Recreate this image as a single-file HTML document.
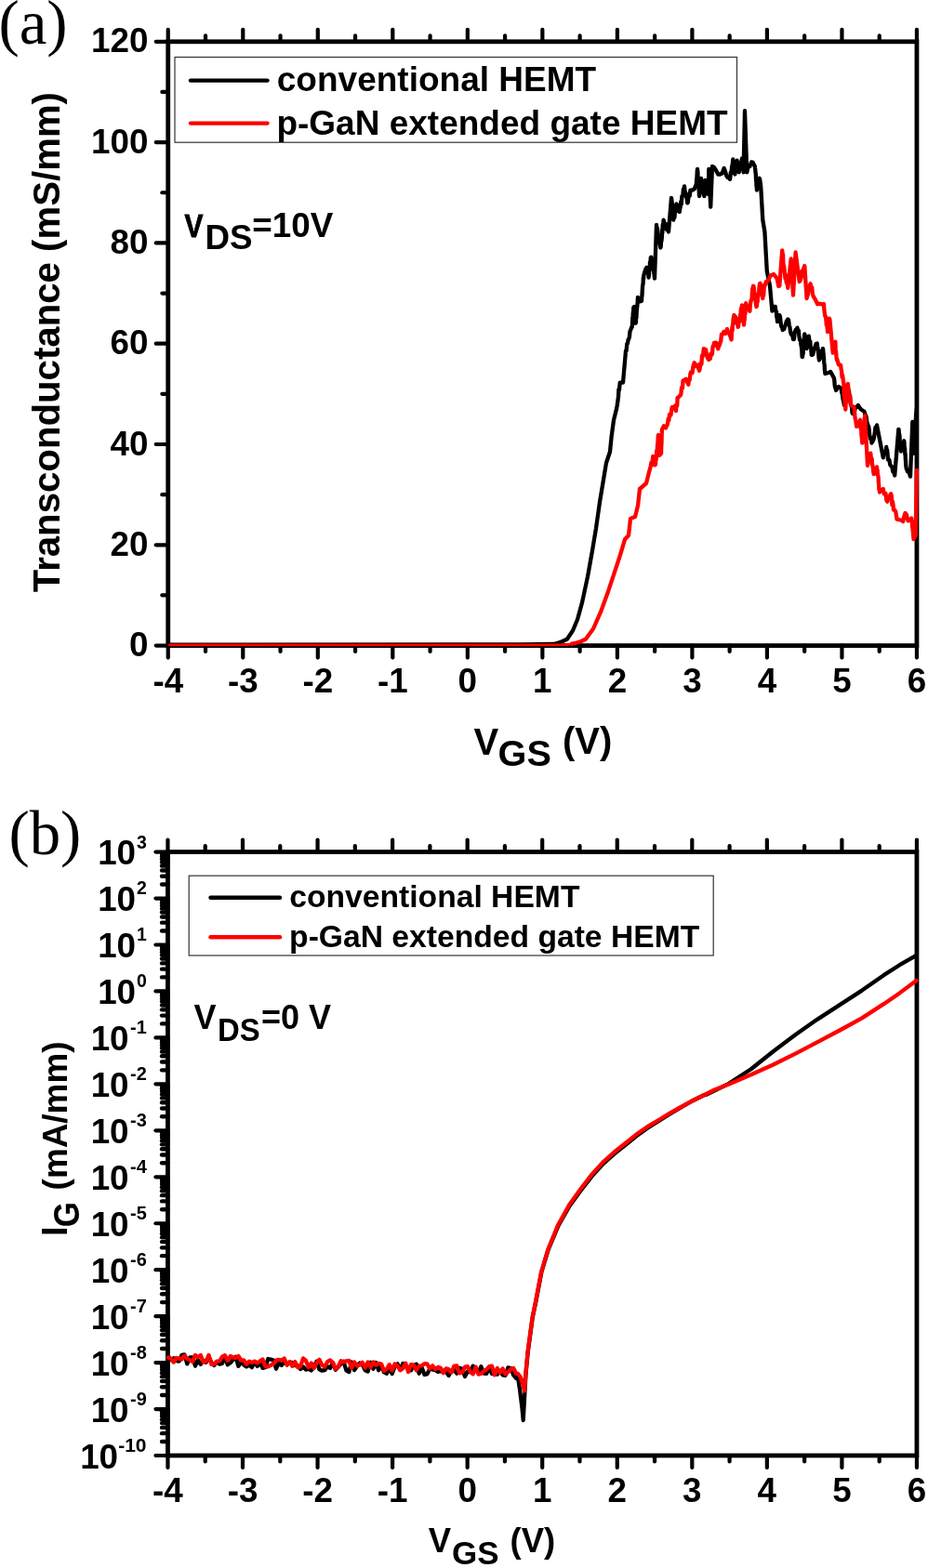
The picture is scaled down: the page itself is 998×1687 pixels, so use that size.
<!DOCTYPE html>
<html><head><meta charset="utf-8"><title>Figure</title>
<style>html,body{margin:0;padding:0;background:#fff}svg{display:block}</style></head>
<body>
<svg width="998" height="1687" viewBox="0 0 998 1687">
<rect x="0" y="0" width="998" height="1687" fill="#fff"/>
<rect x="180.75" y="44.8" width="805.20" height="649.80" fill="none" stroke="#000" stroke-width="4.8"/>
<line x1="180.75" y1="44.80" x2="180.75" y2="31.80" stroke="#000" stroke-width="4.2" stroke-linecap="round"/>
<line x1="180.75" y1="694.60" x2="180.75" y2="707.60" stroke="#000" stroke-width="4.2" stroke-linecap="round"/>
<line x1="221.01" y1="44.80" x2="221.01" y2="38.40" stroke="#000" stroke-width="4.2" stroke-linecap="round"/>
<line x1="221.01" y1="694.60" x2="221.01" y2="701.00" stroke="#000" stroke-width="4.2" stroke-linecap="round"/>
<line x1="261.27" y1="44.80" x2="261.27" y2="31.80" stroke="#000" stroke-width="4.2" stroke-linecap="round"/>
<line x1="261.27" y1="694.60" x2="261.27" y2="707.60" stroke="#000" stroke-width="4.2" stroke-linecap="round"/>
<line x1="301.53" y1="44.80" x2="301.53" y2="38.40" stroke="#000" stroke-width="4.2" stroke-linecap="round"/>
<line x1="301.53" y1="694.60" x2="301.53" y2="701.00" stroke="#000" stroke-width="4.2" stroke-linecap="round"/>
<line x1="341.79" y1="44.80" x2="341.79" y2="31.80" stroke="#000" stroke-width="4.2" stroke-linecap="round"/>
<line x1="341.79" y1="694.60" x2="341.79" y2="707.60" stroke="#000" stroke-width="4.2" stroke-linecap="round"/>
<line x1="382.05" y1="44.80" x2="382.05" y2="38.40" stroke="#000" stroke-width="4.2" stroke-linecap="round"/>
<line x1="382.05" y1="694.60" x2="382.05" y2="701.00" stroke="#000" stroke-width="4.2" stroke-linecap="round"/>
<line x1="422.31" y1="44.80" x2="422.31" y2="31.80" stroke="#000" stroke-width="4.2" stroke-linecap="round"/>
<line x1="422.31" y1="694.60" x2="422.31" y2="707.60" stroke="#000" stroke-width="4.2" stroke-linecap="round"/>
<line x1="462.57" y1="44.80" x2="462.57" y2="38.40" stroke="#000" stroke-width="4.2" stroke-linecap="round"/>
<line x1="462.57" y1="694.60" x2="462.57" y2="701.00" stroke="#000" stroke-width="4.2" stroke-linecap="round"/>
<line x1="502.83" y1="44.80" x2="502.83" y2="31.80" stroke="#000" stroke-width="4.2" stroke-linecap="round"/>
<line x1="502.83" y1="694.60" x2="502.83" y2="707.60" stroke="#000" stroke-width="4.2" stroke-linecap="round"/>
<line x1="543.09" y1="44.80" x2="543.09" y2="38.40" stroke="#000" stroke-width="4.2" stroke-linecap="round"/>
<line x1="543.09" y1="694.60" x2="543.09" y2="701.00" stroke="#000" stroke-width="4.2" stroke-linecap="round"/>
<line x1="583.35" y1="44.80" x2="583.35" y2="31.80" stroke="#000" stroke-width="4.2" stroke-linecap="round"/>
<line x1="583.35" y1="694.60" x2="583.35" y2="707.60" stroke="#000" stroke-width="4.2" stroke-linecap="round"/>
<line x1="623.61" y1="44.80" x2="623.61" y2="38.40" stroke="#000" stroke-width="4.2" stroke-linecap="round"/>
<line x1="623.61" y1="694.60" x2="623.61" y2="701.00" stroke="#000" stroke-width="4.2" stroke-linecap="round"/>
<line x1="663.87" y1="44.80" x2="663.87" y2="31.80" stroke="#000" stroke-width="4.2" stroke-linecap="round"/>
<line x1="663.87" y1="694.60" x2="663.87" y2="707.60" stroke="#000" stroke-width="4.2" stroke-linecap="round"/>
<line x1="704.13" y1="44.80" x2="704.13" y2="38.40" stroke="#000" stroke-width="4.2" stroke-linecap="round"/>
<line x1="704.13" y1="694.60" x2="704.13" y2="701.00" stroke="#000" stroke-width="4.2" stroke-linecap="round"/>
<line x1="744.39" y1="44.80" x2="744.39" y2="31.80" stroke="#000" stroke-width="4.2" stroke-linecap="round"/>
<line x1="744.39" y1="694.60" x2="744.39" y2="707.60" stroke="#000" stroke-width="4.2" stroke-linecap="round"/>
<line x1="784.65" y1="44.80" x2="784.65" y2="38.40" stroke="#000" stroke-width="4.2" stroke-linecap="round"/>
<line x1="784.65" y1="694.60" x2="784.65" y2="701.00" stroke="#000" stroke-width="4.2" stroke-linecap="round"/>
<line x1="824.91" y1="44.80" x2="824.91" y2="31.80" stroke="#000" stroke-width="4.2" stroke-linecap="round"/>
<line x1="824.91" y1="694.60" x2="824.91" y2="707.60" stroke="#000" stroke-width="4.2" stroke-linecap="round"/>
<line x1="865.17" y1="44.80" x2="865.17" y2="38.40" stroke="#000" stroke-width="4.2" stroke-linecap="round"/>
<line x1="865.17" y1="694.60" x2="865.17" y2="701.00" stroke="#000" stroke-width="4.2" stroke-linecap="round"/>
<line x1="905.43" y1="44.80" x2="905.43" y2="31.80" stroke="#000" stroke-width="4.2" stroke-linecap="round"/>
<line x1="905.43" y1="694.60" x2="905.43" y2="707.60" stroke="#000" stroke-width="4.2" stroke-linecap="round"/>
<line x1="945.69" y1="44.80" x2="945.69" y2="38.40" stroke="#000" stroke-width="4.2" stroke-linecap="round"/>
<line x1="945.69" y1="694.60" x2="945.69" y2="701.00" stroke="#000" stroke-width="4.2" stroke-linecap="round"/>
<line x1="985.95" y1="44.80" x2="985.95" y2="31.80" stroke="#000" stroke-width="4.2" stroke-linecap="round"/>
<line x1="985.95" y1="694.60" x2="985.95" y2="707.60" stroke="#000" stroke-width="4.2" stroke-linecap="round"/>
<line x1="180.75" y1="694.60" x2="167.75" y2="694.60" stroke="#000" stroke-width="4.2" stroke-linecap="round"/>
<line x1="180.75" y1="640.45" x2="174.35" y2="640.45" stroke="#000" stroke-width="4.2" stroke-linecap="round"/>
<line x1="180.75" y1="586.30" x2="167.75" y2="586.30" stroke="#000" stroke-width="4.2" stroke-linecap="round"/>
<line x1="180.75" y1="532.15" x2="174.35" y2="532.15" stroke="#000" stroke-width="4.2" stroke-linecap="round"/>
<line x1="180.75" y1="478.00" x2="167.75" y2="478.00" stroke="#000" stroke-width="4.2" stroke-linecap="round"/>
<line x1="180.75" y1="423.85" x2="174.35" y2="423.85" stroke="#000" stroke-width="4.2" stroke-linecap="round"/>
<line x1="180.75" y1="369.70" x2="167.75" y2="369.70" stroke="#000" stroke-width="4.2" stroke-linecap="round"/>
<line x1="180.75" y1="315.55" x2="174.35" y2="315.55" stroke="#000" stroke-width="4.2" stroke-linecap="round"/>
<line x1="180.75" y1="261.40" x2="167.75" y2="261.40" stroke="#000" stroke-width="4.2" stroke-linecap="round"/>
<line x1="180.75" y1="207.25" x2="174.35" y2="207.25" stroke="#000" stroke-width="4.2" stroke-linecap="round"/>
<line x1="180.75" y1="153.10" x2="167.75" y2="153.10" stroke="#000" stroke-width="4.2" stroke-linecap="round"/>
<line x1="180.75" y1="98.95" x2="174.35" y2="98.95" stroke="#000" stroke-width="4.2" stroke-linecap="round"/>
<line x1="180.75" y1="44.80" x2="167.75" y2="44.80" stroke="#000" stroke-width="4.2" stroke-linecap="round"/>
<polyline points="181.0,693.6 560.0,693.4 595.0,693.0 600.0,691.8 605.0,690.0 610.0,687.5 616.0,678.5 621.0,666.5 626.0,648.4 632.0,620.4 637.0,592.3 641.0,568.3 645.0,540.2 649.0,516.0 652.0,498.0 656.0,486.0 657.6,470.0 660.0,452.0 663.0,440.0 663.3,438.2 663.7,436.4 664.0,434.1 664.3,432.5 664.7,428.6 665.0,427.2 665.4,418.9 665.7,419.1 666.0,419.6 666.4,415.1 666.7,411.6 670.0,411.6 673.0,377.4 673.6,377.4 674.3,369.8 675.0,369.5 675.6,365.5 676.2,364.9 676.9,362.5 677.5,356.4 678.2,355.1 678.9,352.9 679.5,351.8 679.8,351.8 680.0,348.2 680.3,341.6 680.5,343.1 680.8,336.2 681.1,336.6 681.3,330.8 681.6,330.5 682.0,330.1 682.3,338.5 682.7,337.1 683.0,340.0 683.4,347.8 683.7,347.5 683.9,347.1 684.1,340.6 684.4,342.1 684.6,336.7 684.8,334.8 685.0,329.0 685.2,330.9 685.5,326.6 685.7,325.6 685.9,319.8 688.0,324.4 690.0,324.0 690.2,319.9 690.5,317.6 690.7,313.6 690.9,310.7 691.1,307.4 691.4,306.1 691.6,305.3 691.8,298.7 692.1,300.2 692.3,296.3 693.4,292.4 694.4,289.4 695.5,287.8 696.0,292.5 696.5,293.0 697.1,294.6 697.6,298.5 697.9,295.7 698.1,294.4 698.4,287.6 698.7,290.8 699.0,282.0 699.2,284.0 699.5,281.9 699.8,277.0 700.3,276.7 700.8,284.5 701.4,284.6 701.9,288.8 702.4,287.9 703.0,291.0 703.5,294.6 704.0,299.5 706.0,242.0 706.5,247.6 707.0,245.5 707.5,251.8 708.0,255.6 708.4,258.4 708.9,257.3 709.4,260.1 709.9,263.9 710.4,266.5 710.7,265.5 711.0,258.6 711.3,259.9 711.6,257.5 711.9,255.2 712.1,247.2 712.4,250.3 712.7,242.1 713.0,241.0 713.3,240.0 713.6,236.6 714.7,241.8 715.8,240.7 716.8,247.0 717.9,247.1 719.0,249.4 722.0,213.0 722.3,214.4 722.5,217.1 722.8,218.8 723.0,220.8 723.3,223.9 723.5,229.9 723.8,234.5 724.0,231.8 724.3,236.6 724.8,230.9 725.4,234.0 725.9,228.3 726.4,224.6 727.0,220.7 727.5,219.5 728.6,222.9 729.6,227.3 730.7,228.0 731.2,224.9 731.8,222.0 732.3,216.8 732.8,219.6 733.4,211.2 733.9,211.3 734.4,210.8 734.9,203.5 735.5,204.6 736.0,200.3 736.5,205.8 736.9,206.3 737.4,209.9 737.8,208.1 738.3,212.8 738.7,213.6 739.2,218.4 739.8,217.8 740.5,211.6 741.1,209.8 741.8,210.6 742.4,204.6 744.5,204.7 746.7,203.4 748.8,198.2 749.0,195.2 749.2,192.7 749.4,191.6 749.6,187.3 749.8,183.4 750.0,182.0 750.2,184.0 750.4,185.0 750.5,189.1 750.7,195.7 750.9,198.1 751.1,198.6 751.3,200.5 751.5,202.1 751.6,203.1 751.8,206.9 752.0,211.0 752.3,210.1 752.6,207.9 752.9,201.9 753.1,201.9 753.4,199.0 753.7,195.8 754.0,191.8 754.5,195.6 755.0,198.9 755.5,199.2 755.9,204.1 756.4,204.1 756.9,208.2 757.4,211.0 757.6,209.9 757.7,206.6 757.9,201.2 758.1,202.5 758.2,197.8 758.4,194.0 759.0,197.5 759.7,196.8 760.3,203.2 761.0,204.2 761.6,208.8 761.7,207.2 761.7,203.2 761.8,202.8 761.9,199.0 762.0,197.3 762.0,191.7 762.1,191.0 762.2,188.9 762.2,186.8 762.3,182.0 764.2,222.7 766.0,179.0 768.0,180.1 770.0,183.2 772.2,187.5 774.4,187.5 776.5,186.6 778.7,181.0 780.0,184.6 781.2,188.8 782.5,191.0 783.7,190.6 785.0,192.8 785.4,190.3 785.8,185.3 786.2,187.0 786.6,184.9 787.1,179.3 787.5,178.1 787.9,175.6 788.3,171.5 788.6,175.6 789.0,174.7 789.3,181.3 789.7,182.7 790.0,185.9 790.4,187.5 790.8,184.0 791.3,182.3 791.7,180.3 792.2,176.5 792.6,172.6 793.1,177.2 793.7,176.0 794.2,180.0 794.7,185.4 795.4,182.0 796.0,180.4 796.7,174.6 797.3,174.6 798.0,170.4 798.3,174.2 798.6,173.5 799.0,179.2 799.3,180.6 799.6,185.4 801.0,119.2 803.2,185.4 804.8,179.3 806.4,179.0 808.0,174.5 809.6,174.7 811.8,179.0 812.0,180.7 812.3,182.7 812.5,185.6 812.8,187.4 813.0,193.0 813.3,195.3 813.5,199.6 813.8,202.3 814.0,204.6 814.5,200.4 815.1,202.1 815.6,193.7 816.2,193.8 816.7,191.8 817.2,193.2 817.7,196.9 818.2,200.3 820.3,236.6 822.4,249.4 824.8,291.8 828.0,307.6 830.4,334.6 832.1,329.8 833.8,330.0 834.2,334.8 834.5,334.5 834.9,335.0 835.3,341.4 835.6,340.7 836.0,346.0 837.1,342.8 838.3,339.0 838.9,340.6 839.4,344.9 840.0,349.9 840.6,351.7 841.1,351.8 841.7,355.0 843.1,354.2 844.5,350.2 845.9,345.6 847.3,343.6 848.0,344.0 848.7,349.6 849.4,352.0 850.1,357.2 850.9,360.0 851.6,360.3 852.3,361.4 853.0,365.0 853.9,365.0 854.8,356.8 855.6,355.1 856.5,355.5 857.4,352.6 858.1,356.0 858.8,355.7 859.4,361.5 860.1,365.8 860.8,366.0 861.2,368.2 861.5,371.6 861.9,373.2 862.3,376.7 862.6,384.0 863.0,384.0 863.3,380.5 863.5,381.5 863.8,378.4 864.0,373.7 864.3,368.8 864.5,370.7 864.8,364.8 865.0,361.6 865.3,359.4 865.7,360.8 866.1,367.7 866.5,367.1 866.8,368.4 867.2,372.3 867.6,375.0 868.0,369.9 868.5,370.4 868.9,366.6 869.4,363.0 869.8,361.6 870.3,366.3 870.8,369.5 871.3,367.2 871.7,373.5 872.2,374.7 872.7,381.9 873.2,382.0 874.3,381.3 875.4,375.4 876.6,373.0 877.7,369.8 878.8,369.5 879.2,375.6 879.5,374.2 879.9,379.2 880.3,381.3 880.6,385.4 881.0,387.5 881.8,385.7 882.6,384.1 883.4,377.6 884.2,379.2 885.0,375.0 885.2,376.4 885.5,380.6 885.7,382.1 886.0,384.5 886.2,388.7 886.4,391.0 886.7,393.0 886.9,398.2 887.2,399.9 887.4,402.0 891.2,401.0 893.1,399.9 895.0,403.2 896.9,406.7 897.3,409.1 897.7,414.7 898.2,417.2 898.6,417.6 899.0,420.0 901.9,415.9 904.7,418.0 905.2,422.4 905.6,422.7 906.1,426.2 906.6,429.6 907.1,431.7 907.5,433.3 908.0,436.0 908.8,436.0 909.5,429.9 910.3,427.3 911.1,427.6 911.8,420.7 912.6,420.0 913.1,421.5 913.6,427.7 914.1,425.6 914.6,433.3 915.0,435.1 915.5,436.2 916.0,438.1 916.5,444.0 917.0,445.0 918.5,445.4 919.9,438.2 921.3,438.1 922.8,436.0 924.4,438.6 926.0,440.5 929.5,442.7 930.2,445.3 930.9,446.9 931.6,448.5 932.3,453.9 933.0,456.0 933.5,460.6 934.1,458.4 934.6,462.0 935.2,468.3 935.8,470.7 936.3,472.4 936.9,470.9 937.4,476.5 938.2,475.2 939.0,474.1 939.8,471.5 940.6,466.9 941.4,460.0 942.2,462.3 943.0,457.4 949.8,492.3 950.6,487.7 951.5,487.6 952.4,486.7 953.2,481.0 953.6,485.1 954.1,484.1 954.5,487.8 955.0,494.6 955.4,494.6 956.4,494.8 957.3,500.1 958.3,501.3 959.3,502.1 960.3,507.5 961.2,506.2 962.2,511.5 966.3,462.0 966.6,462.1 966.9,466.4 967.2,467.1 967.5,469.6 967.8,475.5 968.1,479.2 968.4,482.7 968.7,480.5 969.0,485.5 969.8,482.3 970.6,478.7 971.5,477.7 972.3,474.3 972.5,476.9 972.7,482.4 972.9,481.5 973.1,482.1 973.3,488.9 973.6,488.0 973.8,493.8 974.0,495.6 974.2,500.9 974.4,501.3 974.6,503.6 976.1,507.4 977.5,508.1 979.0,512.6 981.3,454.0 983.0,487.8 984.7,451.8 985.0,449.2 985.2,444.3 985.5,444.6 985.8,440.0" fill="none" stroke="#000" stroke-width="4.3" stroke-linejoin="round" stroke-linecap="round"/>
<polyline points="182.2,693.8 600.0,693.8 610.0,693.5 616.0,692.8" fill="none" stroke="#f00" stroke-width="2.8" stroke-linejoin="round" stroke-linecap="round"/>
<polyline points="615.0,692.6 620.0,691.5 625.0,690.0 630.0,687.5 638.0,676.5 646.0,658.4 654.0,636.4 660.0,618.4 666.0,600.3 672.0,580.3 676.0,576.0 678.0,558.0 683.0,556.0 686.0,544.0 688.0,526.0 695.0,520.0 698.0,508.0 698.8,505.1 699.7,501.7 700.5,497.3 701.3,500.1 702.2,490.9 703.0,492.0 703.7,494.7 704.3,500.4 705.0,500.0 705.3,494.0 705.6,494.7 705.9,492.3 706.1,485.1 706.4,484.8 706.7,484.4 707.0,480.0 707.2,476.6 707.5,475.7 707.8,468.4 708.0,468.0 708.1,468.8 708.2,470.5 708.4,476.3 708.5,482.2 708.6,482.4 708.8,486.6 708.9,486.4 709.0,490.0 711.0,488.0 711.1,487.3 711.2,479.8 711.3,478.6 711.4,478.9 711.5,476.7 711.6,471.8 711.7,466.7 711.8,465.4 711.9,462.4 712.0,462.0 714.0,458.3 716.0,460.4 718.0,456.0 718.7,450.4 719.3,452.3 720.0,446.0 721.4,446.6 722.7,438.1 724.0,438.3 725.4,437.0 726.2,439.4 727.0,442.0 727.4,435.6 727.8,435.8 728.2,436.7 728.6,427.9 729.0,428.0 732.0,425.0 732.5,423.1 733.0,416.9 733.5,417.8 734.0,417.6 734.5,409.7 735.0,409.4 737.6,407.8 740.3,413.7 741.0,407.9 741.7,408.8 742.4,402.2 743.1,400.1 743.9,400.6 744.6,401.2 745.3,394.8 746.0,392.0 746.7,390.2 748.5,394.1 750.2,392.8 752.0,398.8 752.6,396.8 753.2,391.1 753.8,391.8 754.4,391.8 755.0,382.4 755.6,383.6 756.2,381.3 756.8,375.2 757.4,375.3 759.0,376.2 760.6,384.4 762.2,387.1 763.8,386.0 764.5,380.3 765.2,381.9 765.9,380.9 766.6,372.6 767.3,372.6 768.0,368.9 770.1,368.6 772.3,375.3 773.0,371.8 773.7,371.6 774.5,368.5 775.2,367.4 775.9,359.7 776.6,360.3 778.4,357.0 780.2,358.9 782.0,354.0 783.0,357.3 784.1,358.9 785.2,361.2 786.2,364.6 786.6,365.4 786.9,359.5 787.3,352.4 787.6,355.5 788.0,349.1 788.3,347.0 788.7,342.5 789.0,341.4 789.4,339.0 790.2,340.2 791.1,341.0 791.9,347.7 792.8,346.2 793.6,351.8 794.1,351.3 794.6,343.0 795.1,346.1 795.6,343.7 796.0,338.7 796.5,337.7 797.0,331.6 797.5,332.7 798.0,328.3 798.2,330.4 798.5,331.6 798.8,339.9 799.0,338.2 799.2,340.7 799.5,347.1 799.8,346.0 800.0,349.7 800.2,348.4 800.5,342.0 800.7,344.5 801.0,337.4 801.2,333.2 801.5,337.6 801.7,328.9 802.0,332.2 802.2,326.2 803.6,332.7 805.0,332.7 806.4,334.7 806.8,328.3 807.1,325.9 807.5,324.4 807.8,323.0 808.2,322.0 808.6,322.0 808.9,314.6 809.3,310.3 809.6,310.8 810.0,307.6 810.4,307.6 810.9,310.1 811.3,316.4 811.8,320.3 812.2,318.3 812.6,324.0 813.1,328.7 813.5,330.0 813.9,329.3 814.3,323.6 814.7,324.7 815.1,316.5 815.4,317.9 815.8,315.6 816.2,313.7 816.6,308.0 817.0,305.3 817.5,304.9 818.1,307.1 818.6,313.4 819.2,313.3 819.8,319.4 820.3,321.0 820.7,315.2 821.2,317.8 821.6,310.9 822.1,306.6 822.5,307.6 823.9,302.9 825.2,302.8 826.6,301.3 827.9,297.7 829.3,296.3 832.1,295.0 835.0,298.6 836.1,301.5 837.2,308.0 838.3,307.6 841.2,269.3 841.5,272.3 841.8,278.1 842.1,274.0 842.4,284.0 842.8,286.0 843.1,286.1 843.4,288.7 843.7,291.5 844.0,294.0 844.5,299.7 845.1,296.0 845.6,303.0 846.2,304.9 846.8,305.6 847.3,309.8 850.7,278.3 853.0,317.7 855.6,271.5 859.7,303.0 860.6,301.9 861.6,299.0 862.5,291.5 863.4,293.2 864.4,288.5 865.3,286.0 867.6,321.0 868.3,318.3 868.9,316.8 869.6,309.8 870.3,311.3 870.9,307.0 871.6,305.3 872.4,311.1 873.2,309.1 873.9,316.6 874.7,318.8 875.5,320.0 877.3,323.2 879.2,327.3 881.0,326.7 885.6,327.9 886.0,327.0 886.4,333.9 886.8,336.7 887.2,339.8 887.6,340.4 888.0,340.5 888.4,344.1 888.8,349.9 889.2,349.3 889.6,351.0 890.0,357.0 890.5,353.2 891.0,351.4 891.4,349.2 891.9,342.7 892.4,343.6 895.7,379.7 896.3,379.0 896.9,372.8 897.4,373.4 898.0,368.4 898.4,367.7 898.7,377.9 899.1,378.1 899.5,384.0 899.8,387.1 900.2,386.4 901.9,392.3 903.6,393.2 904.1,392.8 904.6,397.2 905.1,398.9 905.5,405.6 906.0,403.7 906.5,406.5 907.0,411.2 907.2,410.9 907.4,413.6 907.6,422.5 907.8,425.5 908.0,423.5 908.3,429.0 908.5,429.6 908.7,432.7 908.9,434.2 909.1,438.9 909.3,440.5 909.5,435.8 909.7,433.2 910.0,432.5 910.2,427.4 910.4,426.5 910.6,427.7 910.8,418.0 911.1,415.9 911.3,418.5 911.5,413.5 911.9,413.0 912.4,417.2 912.8,424.6 913.2,425.5 913.7,425.4 914.1,427.0 914.6,431.5 915.0,436.0 918.3,438.0 918.8,439.4 919.2,446.1 919.7,450.4 920.2,451.9 920.7,455.7 921.1,458.8 921.6,458.5 923.3,458.0 925.0,451.8 925.3,457.7 925.5,460.8 925.8,457.0 926.0,461.4 926.3,463.6 926.5,469.1 926.8,470.9 927.0,472.6 927.3,476.5 927.6,476.4 927.8,470.4 928.1,466.2 928.4,464.1 928.6,462.8 928.9,461.2 929.1,458.2 929.4,454.6 929.7,450.0 929.9,448.9 930.2,447.0 933.0,501.0 933.7,497.0 934.3,493.2 935.0,493.4 935.6,488.1 936.3,487.8 936.7,492.2 937.1,494.6 937.6,493.4 938.0,499.9 938.4,500.4 938.9,504.0 939.3,508.0 939.7,510.0 940.8,509.5 941.9,507.8 943.0,502.4 943.3,506.9 943.6,505.6 943.9,510.8 944.2,512.0 944.5,512.3 944.8,519.1 945.1,521.1 945.4,526.9 945.7,525.5 946.0,529.5 949.8,526.0 950.7,531.3 951.6,531.5 952.5,531.1 953.4,538.5 954.3,539.6 955.4,535.3 956.6,534.6 957.7,531.7 958.2,531.3 958.8,533.6 959.4,543.3 959.9,539.5 960.5,543.1 961.0,548.6 962.1,548.6 963.3,550.6 964.5,558.7 965.6,558.8 970.0,560.0 971.2,561.1 972.3,555.8 973.5,552.0 975.0,553.9 976.5,560.3 978.0,560.0 980.2,557.6 980.5,560.4 980.8,560.4 981.1,567.4 981.4,567.7 981.6,569.9 981.9,573.0 982.2,576.3 982.5,580.0 984.7,575.7 985.9,505.8" fill="none" stroke="#f00" stroke-width="4.3" stroke-linejoin="round" stroke-linecap="round"/>
<text x="180.75" y="745.10" font-family='"Liberation Sans", Arial, Helvetica, sans-serif' font-size="36.8" font-weight="bold" text-anchor="middle" >-4</text>
<text x="261.27" y="745.10" font-family='"Liberation Sans", Arial, Helvetica, sans-serif' font-size="36.8" font-weight="bold" text-anchor="middle" >-3</text>
<text x="341.79" y="745.10" font-family='"Liberation Sans", Arial, Helvetica, sans-serif' font-size="36.8" font-weight="bold" text-anchor="middle" >-2</text>
<text x="422.31" y="745.10" font-family='"Liberation Sans", Arial, Helvetica, sans-serif' font-size="36.8" font-weight="bold" text-anchor="middle" >-1</text>
<text x="502.83" y="745.10" font-family='"Liberation Sans", Arial, Helvetica, sans-serif' font-size="36.8" font-weight="bold" text-anchor="middle" >0</text>
<text x="583.35" y="745.10" font-family='"Liberation Sans", Arial, Helvetica, sans-serif' font-size="36.8" font-weight="bold" text-anchor="middle" >1</text>
<text x="663.87" y="745.10" font-family='"Liberation Sans", Arial, Helvetica, sans-serif' font-size="36.8" font-weight="bold" text-anchor="middle" >2</text>
<text x="744.39" y="745.10" font-family='"Liberation Sans", Arial, Helvetica, sans-serif' font-size="36.8" font-weight="bold" text-anchor="middle" >3</text>
<text x="824.91" y="745.10" font-family='"Liberation Sans", Arial, Helvetica, sans-serif' font-size="36.8" font-weight="bold" text-anchor="middle" >4</text>
<text x="905.43" y="745.10" font-family='"Liberation Sans", Arial, Helvetica, sans-serif' font-size="36.8" font-weight="bold" text-anchor="middle" >5</text>
<text x="985.95" y="745.10" font-family='"Liberation Sans", Arial, Helvetica, sans-serif' font-size="36.8" font-weight="bold" text-anchor="middle" >6</text>
<text x="159.40" y="706.10" font-family='"Liberation Sans", Arial, Helvetica, sans-serif' font-size="36.8" font-weight="bold" text-anchor="end" >0</text>
<text x="159.40" y="597.80" font-family='"Liberation Sans", Arial, Helvetica, sans-serif' font-size="36.8" font-weight="bold" text-anchor="end" >20</text>
<text x="159.40" y="489.50" font-family='"Liberation Sans", Arial, Helvetica, sans-serif' font-size="36.8" font-weight="bold" text-anchor="end" >40</text>
<text x="159.40" y="381.20" font-family='"Liberation Sans", Arial, Helvetica, sans-serif' font-size="36.8" font-weight="bold" text-anchor="end" >60</text>
<text x="159.40" y="272.90" font-family='"Liberation Sans", Arial, Helvetica, sans-serif' font-size="36.8" font-weight="bold" text-anchor="end" >80</text>
<text x="159.40" y="164.60" font-family='"Liberation Sans", Arial, Helvetica, sans-serif' font-size="36.8" font-weight="bold" text-anchor="end" >100</text>
<text x="159.40" y="56.30" font-family='"Liberation Sans", Arial, Helvetica, sans-serif' font-size="36.8" font-weight="bold" text-anchor="end" >120</text>
<text transform="translate(63.8,637.2) rotate(-90)" font-family='"Liberation Sans", Arial, Helvetica, sans-serif' font-size="40.2" font-weight="bold">Transconductance (mS/mm)</text>
<text x="509.50" y="811.50" font-family='"Liberation Sans", Arial, Helvetica, sans-serif' font-size="40" font-weight="bold" text-anchor="start" >V</text>
<text x="535.60" y="824.30" font-family='"Liberation Sans", Arial, Helvetica, sans-serif' font-size="39.6" font-weight="bold" text-anchor="start" >GS</text>
<text x="605.00" y="810.50" font-family='"Liberation Sans", Arial, Helvetica, sans-serif' font-size="40" font-weight="bold" text-anchor="start" >(V)</text>
<text x="-1.60" y="47.20" font-family='"Liberation Serif", "Times New Roman", serif' font-size="66.8" font-weight="normal" text-anchor="start" >(a)</text>
<rect x="188" y="61.5" width="604.5" height="91.7" fill="#fff" stroke="#333" stroke-width="1.2"/>
<line x1="205.00" y1="86.60" x2="287.50" y2="86.60" stroke="#000" stroke-width="4.4" stroke-linecap="round"/>
<line x1="205.00" y1="132.60" x2="287.50" y2="132.60" stroke="#f00" stroke-width="4.4" stroke-linecap="round"/>
<text x="297.80" y="98.00" font-family='"Liberation Sans", Arial, Helvetica, sans-serif' font-size="37.0" font-weight="bold" text-anchor="start" >conventional HEMT</text>
<text x="297.40" y="145.20" font-family='"Liberation Sans", Arial, Helvetica, sans-serif' font-size="37.0" font-weight="bold" text-anchor="start" >p-GaN extended gate HEMT</text>
<text transform="translate(198.40,254.50) scale(0.84,1)" font-family='"Liberation Sans", Arial, Helvetica, sans-serif' font-size="35.5" font-weight="bold" stroke="#000" stroke-width="0.9">V</text>
<text x="220.50" y="268.20" font-family='"Liberation Sans", Arial, Helvetica, sans-serif' font-size="36.8" font-weight="bold" text-anchor="start" >DS</text>
<text x="271.30" y="254.60" font-family='"Liberation Sans", Arial, Helvetica, sans-serif' font-size="36.8" font-weight="bold" text-anchor="start" >=10V</text>
<rect x="180.45" y="916.6" width="805.50" height="649.40" fill="none" stroke="#000" stroke-width="4.8"/>
<line x1="180.45" y1="916.60" x2="180.45" y2="903.60" stroke="#000" stroke-width="4.2" stroke-linecap="round"/>
<line x1="180.45" y1="1566.00" x2="180.45" y2="1579.00" stroke="#000" stroke-width="4.2" stroke-linecap="round"/>
<line x1="220.72" y1="916.60" x2="220.72" y2="910.20" stroke="#000" stroke-width="4.2" stroke-linecap="round"/>
<line x1="220.72" y1="1566.00" x2="220.72" y2="1572.40" stroke="#000" stroke-width="4.2" stroke-linecap="round"/>
<line x1="261.00" y1="916.60" x2="261.00" y2="903.60" stroke="#000" stroke-width="4.2" stroke-linecap="round"/>
<line x1="261.00" y1="1566.00" x2="261.00" y2="1579.00" stroke="#000" stroke-width="4.2" stroke-linecap="round"/>
<line x1="301.27" y1="916.60" x2="301.27" y2="910.20" stroke="#000" stroke-width="4.2" stroke-linecap="round"/>
<line x1="301.27" y1="1566.00" x2="301.27" y2="1572.40" stroke="#000" stroke-width="4.2" stroke-linecap="round"/>
<line x1="341.55" y1="916.60" x2="341.55" y2="903.60" stroke="#000" stroke-width="4.2" stroke-linecap="round"/>
<line x1="341.55" y1="1566.00" x2="341.55" y2="1579.00" stroke="#000" stroke-width="4.2" stroke-linecap="round"/>
<line x1="381.82" y1="916.60" x2="381.82" y2="910.20" stroke="#000" stroke-width="4.2" stroke-linecap="round"/>
<line x1="381.82" y1="1566.00" x2="381.82" y2="1572.40" stroke="#000" stroke-width="4.2" stroke-linecap="round"/>
<line x1="422.10" y1="916.60" x2="422.10" y2="903.60" stroke="#000" stroke-width="4.2" stroke-linecap="round"/>
<line x1="422.10" y1="1566.00" x2="422.10" y2="1579.00" stroke="#000" stroke-width="4.2" stroke-linecap="round"/>
<line x1="462.38" y1="916.60" x2="462.38" y2="910.20" stroke="#000" stroke-width="4.2" stroke-linecap="round"/>
<line x1="462.38" y1="1566.00" x2="462.38" y2="1572.40" stroke="#000" stroke-width="4.2" stroke-linecap="round"/>
<line x1="502.65" y1="916.60" x2="502.65" y2="903.60" stroke="#000" stroke-width="4.2" stroke-linecap="round"/>
<line x1="502.65" y1="1566.00" x2="502.65" y2="1579.00" stroke="#000" stroke-width="4.2" stroke-linecap="round"/>
<line x1="542.92" y1="916.60" x2="542.92" y2="910.20" stroke="#000" stroke-width="4.2" stroke-linecap="round"/>
<line x1="542.92" y1="1566.00" x2="542.92" y2="1572.40" stroke="#000" stroke-width="4.2" stroke-linecap="round"/>
<line x1="583.20" y1="916.60" x2="583.20" y2="903.60" stroke="#000" stroke-width="4.2" stroke-linecap="round"/>
<line x1="583.20" y1="1566.00" x2="583.20" y2="1579.00" stroke="#000" stroke-width="4.2" stroke-linecap="round"/>
<line x1="623.47" y1="916.60" x2="623.47" y2="910.20" stroke="#000" stroke-width="4.2" stroke-linecap="round"/>
<line x1="623.47" y1="1566.00" x2="623.47" y2="1572.40" stroke="#000" stroke-width="4.2" stroke-linecap="round"/>
<line x1="663.75" y1="916.60" x2="663.75" y2="903.60" stroke="#000" stroke-width="4.2" stroke-linecap="round"/>
<line x1="663.75" y1="1566.00" x2="663.75" y2="1579.00" stroke="#000" stroke-width="4.2" stroke-linecap="round"/>
<line x1="704.03" y1="916.60" x2="704.03" y2="910.20" stroke="#000" stroke-width="4.2" stroke-linecap="round"/>
<line x1="704.03" y1="1566.00" x2="704.03" y2="1572.40" stroke="#000" stroke-width="4.2" stroke-linecap="round"/>
<line x1="744.30" y1="916.60" x2="744.30" y2="903.60" stroke="#000" stroke-width="4.2" stroke-linecap="round"/>
<line x1="744.30" y1="1566.00" x2="744.30" y2="1579.00" stroke="#000" stroke-width="4.2" stroke-linecap="round"/>
<line x1="784.58" y1="916.60" x2="784.58" y2="910.20" stroke="#000" stroke-width="4.2" stroke-linecap="round"/>
<line x1="784.58" y1="1566.00" x2="784.58" y2="1572.40" stroke="#000" stroke-width="4.2" stroke-linecap="round"/>
<line x1="824.85" y1="916.60" x2="824.85" y2="903.60" stroke="#000" stroke-width="4.2" stroke-linecap="round"/>
<line x1="824.85" y1="1566.00" x2="824.85" y2="1579.00" stroke="#000" stroke-width="4.2" stroke-linecap="round"/>
<line x1="865.12" y1="916.60" x2="865.12" y2="910.20" stroke="#000" stroke-width="4.2" stroke-linecap="round"/>
<line x1="865.12" y1="1566.00" x2="865.12" y2="1572.40" stroke="#000" stroke-width="4.2" stroke-linecap="round"/>
<line x1="905.40" y1="916.60" x2="905.40" y2="903.60" stroke="#000" stroke-width="4.2" stroke-linecap="round"/>
<line x1="905.40" y1="1566.00" x2="905.40" y2="1579.00" stroke="#000" stroke-width="4.2" stroke-linecap="round"/>
<line x1="945.67" y1="916.60" x2="945.67" y2="910.20" stroke="#000" stroke-width="4.2" stroke-linecap="round"/>
<line x1="945.67" y1="1566.00" x2="945.67" y2="1572.40" stroke="#000" stroke-width="4.2" stroke-linecap="round"/>
<line x1="985.95" y1="916.60" x2="985.95" y2="903.60" stroke="#000" stroke-width="4.2" stroke-linecap="round"/>
<line x1="985.95" y1="1566.00" x2="985.95" y2="1579.00" stroke="#000" stroke-width="4.2" stroke-linecap="round"/>
<line x1="180.45" y1="1566.00" x2="167.45" y2="1566.00" stroke="#000" stroke-width="4.2" stroke-linecap="round"/>
<line x1="180.45" y1="1550.96" x2="174.05" y2="1550.96" stroke="#000" stroke-width="4.4" stroke-linecap="round"/>
<line x1="180.45" y1="1542.17" x2="174.05" y2="1542.17" stroke="#000" stroke-width="4.4" stroke-linecap="round"/>
<line x1="180.45" y1="1535.92" x2="174.05" y2="1535.92" stroke="#000" stroke-width="4.4" stroke-linecap="round"/>
<line x1="180.45" y1="1531.08" x2="174.05" y2="1531.08" stroke="#000" stroke-width="4.4" stroke-linecap="round"/>
<line x1="180.45" y1="1527.13" x2="174.05" y2="1527.13" stroke="#000" stroke-width="4.4" stroke-linecap="round"/>
<line x1="180.45" y1="1523.78" x2="174.05" y2="1523.78" stroke="#000" stroke-width="4.4" stroke-linecap="round"/>
<line x1="180.45" y1="1520.89" x2="174.05" y2="1520.89" stroke="#000" stroke-width="4.4" stroke-linecap="round"/>
<line x1="180.45" y1="1518.33" x2="174.05" y2="1518.33" stroke="#000" stroke-width="4.4" stroke-linecap="round"/>
<line x1="180.45" y1="1516.05" x2="167.45" y2="1516.05" stroke="#000" stroke-width="4.2" stroke-linecap="round"/>
<line x1="180.45" y1="1501.01" x2="174.05" y2="1501.01" stroke="#000" stroke-width="4.4" stroke-linecap="round"/>
<line x1="180.45" y1="1492.21" x2="174.05" y2="1492.21" stroke="#000" stroke-width="4.4" stroke-linecap="round"/>
<line x1="180.45" y1="1485.97" x2="174.05" y2="1485.97" stroke="#000" stroke-width="4.4" stroke-linecap="round"/>
<line x1="180.45" y1="1481.13" x2="174.05" y2="1481.13" stroke="#000" stroke-width="4.4" stroke-linecap="round"/>
<line x1="180.45" y1="1477.17" x2="174.05" y2="1477.17" stroke="#000" stroke-width="4.4" stroke-linecap="round"/>
<line x1="180.45" y1="1473.83" x2="174.05" y2="1473.83" stroke="#000" stroke-width="4.4" stroke-linecap="round"/>
<line x1="180.45" y1="1470.93" x2="174.05" y2="1470.93" stroke="#000" stroke-width="4.4" stroke-linecap="round"/>
<line x1="180.45" y1="1468.38" x2="174.05" y2="1468.38" stroke="#000" stroke-width="4.4" stroke-linecap="round"/>
<line x1="180.45" y1="1466.09" x2="167.45" y2="1466.09" stroke="#000" stroke-width="4.2" stroke-linecap="round"/>
<line x1="180.45" y1="1451.05" x2="174.05" y2="1451.05" stroke="#000" stroke-width="4.4" stroke-linecap="round"/>
<line x1="180.45" y1="1442.26" x2="174.05" y2="1442.26" stroke="#000" stroke-width="4.4" stroke-linecap="round"/>
<line x1="180.45" y1="1436.02" x2="174.05" y2="1436.02" stroke="#000" stroke-width="4.4" stroke-linecap="round"/>
<line x1="180.45" y1="1431.18" x2="174.05" y2="1431.18" stroke="#000" stroke-width="4.4" stroke-linecap="round"/>
<line x1="180.45" y1="1427.22" x2="174.05" y2="1427.22" stroke="#000" stroke-width="4.4" stroke-linecap="round"/>
<line x1="180.45" y1="1423.88" x2="174.05" y2="1423.88" stroke="#000" stroke-width="4.4" stroke-linecap="round"/>
<line x1="180.45" y1="1420.98" x2="174.05" y2="1420.98" stroke="#000" stroke-width="4.4" stroke-linecap="round"/>
<line x1="180.45" y1="1418.42" x2="174.05" y2="1418.42" stroke="#000" stroke-width="4.4" stroke-linecap="round"/>
<line x1="180.45" y1="1416.14" x2="167.45" y2="1416.14" stroke="#000" stroke-width="4.2" stroke-linecap="round"/>
<line x1="180.45" y1="1401.10" x2="174.05" y2="1401.10" stroke="#000" stroke-width="4.4" stroke-linecap="round"/>
<line x1="180.45" y1="1392.30" x2="174.05" y2="1392.30" stroke="#000" stroke-width="4.4" stroke-linecap="round"/>
<line x1="180.45" y1="1386.06" x2="174.05" y2="1386.06" stroke="#000" stroke-width="4.4" stroke-linecap="round"/>
<line x1="180.45" y1="1381.22" x2="174.05" y2="1381.22" stroke="#000" stroke-width="4.4" stroke-linecap="round"/>
<line x1="180.45" y1="1377.27" x2="174.05" y2="1377.27" stroke="#000" stroke-width="4.4" stroke-linecap="round"/>
<line x1="180.45" y1="1373.92" x2="174.05" y2="1373.92" stroke="#000" stroke-width="4.4" stroke-linecap="round"/>
<line x1="180.45" y1="1371.03" x2="174.05" y2="1371.03" stroke="#000" stroke-width="4.4" stroke-linecap="round"/>
<line x1="180.45" y1="1368.47" x2="174.05" y2="1368.47" stroke="#000" stroke-width="4.4" stroke-linecap="round"/>
<line x1="180.45" y1="1366.18" x2="167.45" y2="1366.18" stroke="#000" stroke-width="4.2" stroke-linecap="round"/>
<line x1="180.45" y1="1351.15" x2="174.05" y2="1351.15" stroke="#000" stroke-width="4.4" stroke-linecap="round"/>
<line x1="180.45" y1="1342.35" x2="174.05" y2="1342.35" stroke="#000" stroke-width="4.4" stroke-linecap="round"/>
<line x1="180.45" y1="1336.11" x2="174.05" y2="1336.11" stroke="#000" stroke-width="4.4" stroke-linecap="round"/>
<line x1="180.45" y1="1331.27" x2="174.05" y2="1331.27" stroke="#000" stroke-width="4.4" stroke-linecap="round"/>
<line x1="180.45" y1="1327.31" x2="174.05" y2="1327.31" stroke="#000" stroke-width="4.4" stroke-linecap="round"/>
<line x1="180.45" y1="1323.97" x2="174.05" y2="1323.97" stroke="#000" stroke-width="4.4" stroke-linecap="round"/>
<line x1="180.45" y1="1321.07" x2="174.05" y2="1321.07" stroke="#000" stroke-width="4.4" stroke-linecap="round"/>
<line x1="180.45" y1="1318.52" x2="174.05" y2="1318.52" stroke="#000" stroke-width="4.4" stroke-linecap="round"/>
<line x1="180.45" y1="1316.23" x2="167.45" y2="1316.23" stroke="#000" stroke-width="4.2" stroke-linecap="round"/>
<line x1="180.45" y1="1301.19" x2="174.05" y2="1301.19" stroke="#000" stroke-width="4.4" stroke-linecap="round"/>
<line x1="180.45" y1="1292.40" x2="174.05" y2="1292.40" stroke="#000" stroke-width="4.4" stroke-linecap="round"/>
<line x1="180.45" y1="1286.16" x2="174.05" y2="1286.16" stroke="#000" stroke-width="4.4" stroke-linecap="round"/>
<line x1="180.45" y1="1281.31" x2="174.05" y2="1281.31" stroke="#000" stroke-width="4.4" stroke-linecap="round"/>
<line x1="180.45" y1="1277.36" x2="174.05" y2="1277.36" stroke="#000" stroke-width="4.4" stroke-linecap="round"/>
<line x1="180.45" y1="1274.01" x2="174.05" y2="1274.01" stroke="#000" stroke-width="4.4" stroke-linecap="round"/>
<line x1="180.45" y1="1271.12" x2="174.05" y2="1271.12" stroke="#000" stroke-width="4.4" stroke-linecap="round"/>
<line x1="180.45" y1="1268.56" x2="174.05" y2="1268.56" stroke="#000" stroke-width="4.4" stroke-linecap="round"/>
<line x1="180.45" y1="1266.28" x2="167.45" y2="1266.28" stroke="#000" stroke-width="4.2" stroke-linecap="round"/>
<line x1="180.45" y1="1251.24" x2="174.05" y2="1251.24" stroke="#000" stroke-width="4.4" stroke-linecap="round"/>
<line x1="180.45" y1="1242.44" x2="174.05" y2="1242.44" stroke="#000" stroke-width="4.4" stroke-linecap="round"/>
<line x1="180.45" y1="1236.20" x2="174.05" y2="1236.20" stroke="#000" stroke-width="4.4" stroke-linecap="round"/>
<line x1="180.45" y1="1231.36" x2="174.05" y2="1231.36" stroke="#000" stroke-width="4.4" stroke-linecap="round"/>
<line x1="180.45" y1="1227.41" x2="174.05" y2="1227.41" stroke="#000" stroke-width="4.4" stroke-linecap="round"/>
<line x1="180.45" y1="1224.06" x2="174.05" y2="1224.06" stroke="#000" stroke-width="4.4" stroke-linecap="round"/>
<line x1="180.45" y1="1221.16" x2="174.05" y2="1221.16" stroke="#000" stroke-width="4.4" stroke-linecap="round"/>
<line x1="180.45" y1="1218.61" x2="174.05" y2="1218.61" stroke="#000" stroke-width="4.4" stroke-linecap="round"/>
<line x1="180.45" y1="1216.32" x2="167.45" y2="1216.32" stroke="#000" stroke-width="4.2" stroke-linecap="round"/>
<line x1="180.45" y1="1201.29" x2="174.05" y2="1201.29" stroke="#000" stroke-width="4.4" stroke-linecap="round"/>
<line x1="180.45" y1="1192.49" x2="174.05" y2="1192.49" stroke="#000" stroke-width="4.4" stroke-linecap="round"/>
<line x1="180.45" y1="1186.25" x2="174.05" y2="1186.25" stroke="#000" stroke-width="4.4" stroke-linecap="round"/>
<line x1="180.45" y1="1181.41" x2="174.05" y2="1181.41" stroke="#000" stroke-width="4.4" stroke-linecap="round"/>
<line x1="180.45" y1="1177.45" x2="174.05" y2="1177.45" stroke="#000" stroke-width="4.4" stroke-linecap="round"/>
<line x1="180.45" y1="1174.11" x2="174.05" y2="1174.11" stroke="#000" stroke-width="4.4" stroke-linecap="round"/>
<line x1="180.45" y1="1171.21" x2="174.05" y2="1171.21" stroke="#000" stroke-width="4.4" stroke-linecap="round"/>
<line x1="180.45" y1="1168.65" x2="174.05" y2="1168.65" stroke="#000" stroke-width="4.4" stroke-linecap="round"/>
<line x1="180.45" y1="1166.37" x2="167.45" y2="1166.37" stroke="#000" stroke-width="4.2" stroke-linecap="round"/>
<line x1="180.45" y1="1151.33" x2="174.05" y2="1151.33" stroke="#000" stroke-width="4.4" stroke-linecap="round"/>
<line x1="180.45" y1="1142.54" x2="174.05" y2="1142.54" stroke="#000" stroke-width="4.4" stroke-linecap="round"/>
<line x1="180.45" y1="1136.29" x2="174.05" y2="1136.29" stroke="#000" stroke-width="4.4" stroke-linecap="round"/>
<line x1="180.45" y1="1131.45" x2="174.05" y2="1131.45" stroke="#000" stroke-width="4.4" stroke-linecap="round"/>
<line x1="180.45" y1="1127.50" x2="174.05" y2="1127.50" stroke="#000" stroke-width="4.4" stroke-linecap="round"/>
<line x1="180.45" y1="1124.15" x2="174.05" y2="1124.15" stroke="#000" stroke-width="4.4" stroke-linecap="round"/>
<line x1="180.45" y1="1121.26" x2="174.05" y2="1121.26" stroke="#000" stroke-width="4.4" stroke-linecap="round"/>
<line x1="180.45" y1="1118.70" x2="174.05" y2="1118.70" stroke="#000" stroke-width="4.4" stroke-linecap="round"/>
<line x1="180.45" y1="1116.42" x2="167.45" y2="1116.42" stroke="#000" stroke-width="4.2" stroke-linecap="round"/>
<line x1="180.45" y1="1101.38" x2="174.05" y2="1101.38" stroke="#000" stroke-width="4.4" stroke-linecap="round"/>
<line x1="180.45" y1="1092.58" x2="174.05" y2="1092.58" stroke="#000" stroke-width="4.4" stroke-linecap="round"/>
<line x1="180.45" y1="1086.34" x2="174.05" y2="1086.34" stroke="#000" stroke-width="4.4" stroke-linecap="round"/>
<line x1="180.45" y1="1081.50" x2="174.05" y2="1081.50" stroke="#000" stroke-width="4.4" stroke-linecap="round"/>
<line x1="180.45" y1="1077.54" x2="174.05" y2="1077.54" stroke="#000" stroke-width="4.4" stroke-linecap="round"/>
<line x1="180.45" y1="1074.20" x2="174.05" y2="1074.20" stroke="#000" stroke-width="4.4" stroke-linecap="round"/>
<line x1="180.45" y1="1071.30" x2="174.05" y2="1071.30" stroke="#000" stroke-width="4.4" stroke-linecap="round"/>
<line x1="180.45" y1="1068.75" x2="174.05" y2="1068.75" stroke="#000" stroke-width="4.4" stroke-linecap="round"/>
<line x1="180.45" y1="1066.46" x2="167.45" y2="1066.46" stroke="#000" stroke-width="4.2" stroke-linecap="round"/>
<line x1="180.45" y1="1051.42" x2="174.05" y2="1051.42" stroke="#000" stroke-width="4.4" stroke-linecap="round"/>
<line x1="180.45" y1="1042.63" x2="174.05" y2="1042.63" stroke="#000" stroke-width="4.4" stroke-linecap="round"/>
<line x1="180.45" y1="1036.39" x2="174.05" y2="1036.39" stroke="#000" stroke-width="4.4" stroke-linecap="round"/>
<line x1="180.45" y1="1031.55" x2="174.05" y2="1031.55" stroke="#000" stroke-width="4.4" stroke-linecap="round"/>
<line x1="180.45" y1="1027.59" x2="174.05" y2="1027.59" stroke="#000" stroke-width="4.4" stroke-linecap="round"/>
<line x1="180.45" y1="1024.25" x2="174.05" y2="1024.25" stroke="#000" stroke-width="4.4" stroke-linecap="round"/>
<line x1="180.45" y1="1021.35" x2="174.05" y2="1021.35" stroke="#000" stroke-width="4.4" stroke-linecap="round"/>
<line x1="180.45" y1="1018.79" x2="174.05" y2="1018.79" stroke="#000" stroke-width="4.4" stroke-linecap="round"/>
<line x1="180.45" y1="1016.51" x2="167.45" y2="1016.51" stroke="#000" stroke-width="4.2" stroke-linecap="round"/>
<line x1="180.45" y1="1001.47" x2="174.05" y2="1001.47" stroke="#000" stroke-width="4.4" stroke-linecap="round"/>
<line x1="180.45" y1="992.67" x2="174.05" y2="992.67" stroke="#000" stroke-width="4.4" stroke-linecap="round"/>
<line x1="180.45" y1="986.43" x2="174.05" y2="986.43" stroke="#000" stroke-width="4.4" stroke-linecap="round"/>
<line x1="180.45" y1="981.59" x2="174.05" y2="981.59" stroke="#000" stroke-width="4.4" stroke-linecap="round"/>
<line x1="180.45" y1="977.64" x2="174.05" y2="977.64" stroke="#000" stroke-width="4.4" stroke-linecap="round"/>
<line x1="180.45" y1="974.29" x2="174.05" y2="974.29" stroke="#000" stroke-width="4.4" stroke-linecap="round"/>
<line x1="180.45" y1="971.39" x2="174.05" y2="971.39" stroke="#000" stroke-width="4.4" stroke-linecap="round"/>
<line x1="180.45" y1="968.84" x2="174.05" y2="968.84" stroke="#000" stroke-width="4.4" stroke-linecap="round"/>
<line x1="180.45" y1="966.55" x2="167.45" y2="966.55" stroke="#000" stroke-width="4.2" stroke-linecap="round"/>
<line x1="180.45" y1="951.52" x2="174.05" y2="951.52" stroke="#000" stroke-width="4.4" stroke-linecap="round"/>
<line x1="180.45" y1="942.72" x2="174.05" y2="942.72" stroke="#000" stroke-width="4.4" stroke-linecap="round"/>
<line x1="180.45" y1="936.48" x2="174.05" y2="936.48" stroke="#000" stroke-width="4.4" stroke-linecap="round"/>
<line x1="180.45" y1="931.64" x2="174.05" y2="931.64" stroke="#000" stroke-width="4.4" stroke-linecap="round"/>
<line x1="180.45" y1="927.68" x2="174.05" y2="927.68" stroke="#000" stroke-width="4.4" stroke-linecap="round"/>
<line x1="180.45" y1="924.34" x2="174.05" y2="924.34" stroke="#000" stroke-width="4.4" stroke-linecap="round"/>
<line x1="180.45" y1="921.44" x2="174.05" y2="921.44" stroke="#000" stroke-width="4.4" stroke-linecap="round"/>
<line x1="180.45" y1="918.89" x2="174.05" y2="918.89" stroke="#000" stroke-width="4.4" stroke-linecap="round"/>
<line x1="180.45" y1="916.60" x2="167.45" y2="916.60" stroke="#000" stroke-width="4.2" stroke-linecap="round"/>
<polyline points="181.0,1459.4 183.9,1463.1 186.8,1461.2 189.7,1464.1 192.6,1464.5 195.5,1457.9 198.4,1457.4 201.3,1467.4 204.2,1460.5 207.1,1460.4 210.0,1469.6 212.9,1463.4 215.8,1467.9 218.7,1463.7 221.6,1465.8 224.5,1460.0 227.4,1466.0 230.3,1468.9 233.2,1464.9 236.1,1467.6 239.0,1466.9 241.9,1459.7 244.8,1468.2 247.7,1466.3 250.6,1462.9 253.5,1459.8 256.4,1469.9 259.3,1465.3 262.2,1468.4 265.1,1470.4 268.0,1468.5 270.9,1471.1 273.8,1465.0 276.7,1469.9 279.6,1465.8 282.5,1471.8 285.4,1471.2 288.3,1462.0 291.2,1462.5 294.1,1463.6 297.0,1472.7 299.9,1466.5 302.8,1468.9 305.7,1465.1 308.6,1467.7 311.5,1466.4 314.4,1466.0 317.3,1469.0 320.2,1469.1 323.1,1473.0 326.0,1470.5 328.9,1473.6 331.8,1472.8 334.7,1474.5 337.6,1470.8 340.5,1464.8 343.4,1473.3 346.3,1474.7 349.2,1474.1 352.1,1470.2 355.0,1472.0 357.9,1466.1 360.8,1473.7 363.7,1470.7 366.6,1467.3 369.5,1464.8 372.4,1474.4 375.3,1476.1 378.2,1465.5 381.1,1474.1 384.0,1469.5 386.9,1466.5 389.8,1468.4 392.7,1474.2 395.6,1475.6 398.5,1465.7 401.4,1472.7 404.3,1466.0 407.2,1474.2 410.1,1469.6 413.0,1476.4 415.9,1477.7 418.8,1472.1 421.7,1478.1 424.6,1470.0 427.5,1467.3 430.4,1473.7 433.3,1467.0 436.2,1469.1 439.1,1471.7 442.0,1474.3 444.9,1468.9 447.8,1467.7 450.7,1477.7 453.6,1471.2 456.5,1479.0 459.4,1478.4 462.3,1472.3 465.2,1473.4 468.1,1474.2 471.0,1475.8 473.9,1475.4 476.8,1475.0 479.7,1475.9 482.6,1479.9 485.5,1474.8 488.4,1474.0 491.3,1477.6 494.2,1471.9 497.1,1472.8 500.0,1481.0 502.9,1475.6 505.8,1476.1 508.7,1469.7 511.6,1474.7 514.5,1476.8 517.4,1470.2 520.3,1477.5 523.2,1477.8 526.1,1471.0 529.0,1477.9 531.9,1476.1 534.8,1478.8 537.7,1475.0 540.6,1479.4 543.5,1479.9 546.4,1471.4 549.3,1472.0 552.2,1479.5 555.1,1483.0 557.0,1482.0 559.0,1495.0 561.5,1515.0 562.7,1528.0 564.0,1505.0 565.5,1478.0 567.7,1455.0 572.7,1417.6 576.4,1400.0 582.4,1368.5 589.7,1344.4 600.6,1318.5 612.7,1297.3 624.7,1280.7 636.7,1265.4 648.7,1252.1 660.7,1241.3 672.7,1231.7 684.7,1222.0 696.6,1213.4 708.6,1206.0 720.5,1198.5 732.4,1191.3 744.4,1184.5 756.5,1178.5 760.0,1177.7 783.8,1165.8 807.7,1150.2 831.5,1131.2 855.4,1113.3 879.2,1096.6 903.1,1081.1 927.0,1065.6 950.8,1048.9 967.5,1038.2 985.5,1027.8" fill="none" stroke="#000" stroke-width="4.3" stroke-linejoin="round" stroke-linecap="round"/>
<polyline points="181.0,1460.5 183.9,1461.7 186.8,1465.6 189.7,1461.0 192.6,1461.5 195.5,1462.5 198.4,1458.4 201.3,1461.9 204.2,1463.2 207.1,1465.1 210.0,1457.9 212.9,1460.2 215.8,1458.1 218.7,1465.7 221.6,1464.6 224.5,1457.9 227.4,1467.8 230.3,1467.7 233.2,1464.6 236.1,1464.3 239.0,1459.7 241.9,1458.3 244.8,1463.8 247.7,1459.0 250.6,1460.5 253.5,1461.1 256.4,1459.0 259.3,1463.7 262.2,1463.5 265.1,1467.8 268.0,1464.6 270.9,1465.9 273.8,1464.6 276.7,1466.4 279.6,1464.4 282.5,1462.6 285.4,1470.2 288.3,1470.3 291.2,1468.8 294.1,1467.5 297.0,1463.6 299.9,1462.8 302.8,1463.5 305.7,1461.4 308.6,1468.7 311.5,1465.0 314.4,1469.8 317.3,1465.1 320.2,1471.1 323.1,1470.1 326.0,1461.4 328.9,1463.7 331.8,1471.1 334.7,1466.6 337.6,1472.1 340.5,1466.1 343.4,1462.8 346.3,1468.7 349.2,1470.4 352.1,1465.2 355.0,1463.4 357.9,1466.1 360.8,1472.8 363.7,1470.7 366.6,1464.2 369.5,1465.7 372.4,1464.3 375.3,1463.9 378.2,1471.7 381.1,1465.4 384.0,1469.5 386.9,1468.4 389.8,1465.9 392.7,1471.6 395.6,1465.5 398.5,1470.9 401.4,1465.5 404.3,1468.8 407.2,1466.8 410.1,1467.5 413.0,1474.9 415.9,1473.2 418.8,1468.2 421.7,1474.3 424.6,1467.4 427.5,1469.4 430.4,1474.3 433.3,1472.2 436.2,1466.7 439.1,1476.1 442.0,1468.1 444.9,1468.7 447.8,1474.2 450.7,1469.6 453.6,1469.4 456.5,1467.2 459.4,1467.5 462.3,1472.7 465.2,1469.3 468.1,1473.2 471.0,1470.9 473.9,1471.8 476.8,1477.2 479.7,1472.4 482.6,1473.4 485.5,1476.6 488.4,1469.6 491.3,1469.4 494.2,1477.4 497.1,1476.5 500.0,1470.7 502.9,1470.2 505.8,1476.0 508.7,1478.3 511.6,1470.6 514.5,1478.6 517.4,1478.0 520.3,1475.2 523.2,1473.4 526.1,1470.2 529.0,1469.7 531.9,1479.4 534.8,1472.0 537.7,1476.9 540.6,1472.4 543.5,1478.4 546.4,1476.1 549.3,1473.1 552.2,1472.0 555.1,1477.8 557.0,1478.0 560.0,1482.0 562.5,1490.0 564.0,1496.5 565.5,1476.0 567.7,1453.0 572.5,1417.6 576.1,1400.0 582.1,1368.5 589.3,1344.4 600.1,1318.0 612.2,1296.3 624.2,1279.5 636.2,1263.9 648.2,1250.6 660.3,1239.8 672.3,1230.2 684.3,1220.6 696.3,1212.2 708.4,1205.0 720.4,1197.7 732.4,1191.0 744.4,1184.5 756.5,1178.5 768.5,1172.5 783.8,1166.5 807.7,1156.2 831.5,1145.5 855.4,1133.6 879.2,1121.2 903.1,1108.5 927.0,1095.4 950.8,1079.9 967.5,1068.4 985.5,1055.0" fill="none" stroke="#f00" stroke-width="4.3" stroke-linejoin="round" stroke-linecap="round"/>
<text x="180.45" y="1616.00" font-family='"Liberation Sans", Arial, Helvetica, sans-serif' font-size="36.8" font-weight="bold" text-anchor="middle" >-4</text>
<text x="261.00" y="1616.00" font-family='"Liberation Sans", Arial, Helvetica, sans-serif' font-size="36.8" font-weight="bold" text-anchor="middle" >-3</text>
<text x="341.55" y="1616.00" font-family='"Liberation Sans", Arial, Helvetica, sans-serif' font-size="36.8" font-weight="bold" text-anchor="middle" >-2</text>
<text x="422.10" y="1616.00" font-family='"Liberation Sans", Arial, Helvetica, sans-serif' font-size="36.8" font-weight="bold" text-anchor="middle" >-1</text>
<text x="502.65" y="1616.00" font-family='"Liberation Sans", Arial, Helvetica, sans-serif' font-size="36.8" font-weight="bold" text-anchor="middle" >0</text>
<text x="583.20" y="1616.00" font-family='"Liberation Sans", Arial, Helvetica, sans-serif' font-size="36.8" font-weight="bold" text-anchor="middle" >1</text>
<text x="663.75" y="1616.00" font-family='"Liberation Sans", Arial, Helvetica, sans-serif' font-size="36.8" font-weight="bold" text-anchor="middle" >2</text>
<text x="744.30" y="1616.00" font-family='"Liberation Sans", Arial, Helvetica, sans-serif' font-size="36.8" font-weight="bold" text-anchor="middle" >3</text>
<text x="824.85" y="1616.00" font-family='"Liberation Sans", Arial, Helvetica, sans-serif' font-size="36.8" font-weight="bold" text-anchor="middle" >4</text>
<text x="905.40" y="1616.00" font-family='"Liberation Sans", Arial, Helvetica, sans-serif' font-size="36.8" font-weight="bold" text-anchor="middle" >5</text>
<text x="985.95" y="1616.00" font-family='"Liberation Sans", Arial, Helvetica, sans-serif' font-size="36.8" font-weight="bold" text-anchor="middle" >6</text>
<text transform="translate(127.20,1561.90) scale(1.0,1)" font-family='"Liberation Sans", Arial, Helvetica, sans-serif' font-size="21" font-weight="bold" >-10</text>
<text x="127.10" y="1579.80" font-family='"Liberation Sans", Arial, Helvetica, sans-serif' font-size="36.8" font-weight="bold" text-anchor="end" >10</text>
<text transform="translate(140.10,1511.95) scale(0.95,1)" font-family='"Liberation Sans", Arial, Helvetica, sans-serif' font-size="21" font-weight="bold" >-9</text>
<text x="138.60" y="1529.85" font-family='"Liberation Sans", Arial, Helvetica, sans-serif' font-size="36.8" font-weight="bold" text-anchor="end" >10</text>
<text transform="translate(140.10,1461.99) scale(0.95,1)" font-family='"Liberation Sans", Arial, Helvetica, sans-serif' font-size="21" font-weight="bold" >-8</text>
<text x="138.60" y="1479.89" font-family='"Liberation Sans", Arial, Helvetica, sans-serif' font-size="36.8" font-weight="bold" text-anchor="end" >10</text>
<text transform="translate(140.10,1412.04) scale(0.95,1)" font-family='"Liberation Sans", Arial, Helvetica, sans-serif' font-size="21" font-weight="bold" >-7</text>
<text x="138.60" y="1429.94" font-family='"Liberation Sans", Arial, Helvetica, sans-serif' font-size="36.8" font-weight="bold" text-anchor="end" >10</text>
<text transform="translate(140.10,1362.08) scale(0.95,1)" font-family='"Liberation Sans", Arial, Helvetica, sans-serif' font-size="21" font-weight="bold" >-6</text>
<text x="138.60" y="1379.98" font-family='"Liberation Sans", Arial, Helvetica, sans-serif' font-size="36.8" font-weight="bold" text-anchor="end" >10</text>
<text transform="translate(140.10,1312.13) scale(0.95,1)" font-family='"Liberation Sans", Arial, Helvetica, sans-serif' font-size="21" font-weight="bold" >-5</text>
<text x="138.60" y="1330.03" font-family='"Liberation Sans", Arial, Helvetica, sans-serif' font-size="36.8" font-weight="bold" text-anchor="end" >10</text>
<text transform="translate(140.10,1262.18) scale(0.95,1)" font-family='"Liberation Sans", Arial, Helvetica, sans-serif' font-size="21" font-weight="bold" >-4</text>
<text x="138.60" y="1280.08" font-family='"Liberation Sans", Arial, Helvetica, sans-serif' font-size="36.8" font-weight="bold" text-anchor="end" >10</text>
<text transform="translate(140.10,1212.22) scale(0.95,1)" font-family='"Liberation Sans", Arial, Helvetica, sans-serif' font-size="21" font-weight="bold" >-3</text>
<text x="138.60" y="1230.12" font-family='"Liberation Sans", Arial, Helvetica, sans-serif' font-size="36.8" font-weight="bold" text-anchor="end" >10</text>
<text transform="translate(140.10,1162.27) scale(0.95,1)" font-family='"Liberation Sans", Arial, Helvetica, sans-serif' font-size="21" font-weight="bold" >-2</text>
<text x="138.60" y="1180.17" font-family='"Liberation Sans", Arial, Helvetica, sans-serif' font-size="36.8" font-weight="bold" text-anchor="end" >10</text>
<text transform="translate(140.10,1112.32) scale(0.95,1)" font-family='"Liberation Sans", Arial, Helvetica, sans-serif' font-size="21" font-weight="bold" >-1</text>
<text x="138.60" y="1130.22" font-family='"Liberation Sans", Arial, Helvetica, sans-serif' font-size="36.8" font-weight="bold" text-anchor="end" >10</text>
<text transform="translate(146.90,1062.36) scale(0.93,1)" font-family='"Liberation Sans", Arial, Helvetica, sans-serif' font-size="21" font-weight="bold" >0</text>
<text x="146.10" y="1080.26" font-family='"Liberation Sans", Arial, Helvetica, sans-serif' font-size="36.8" font-weight="bold" text-anchor="end" >10</text>
<text transform="translate(146.90,1012.41) scale(0.93,1)" font-family='"Liberation Sans", Arial, Helvetica, sans-serif' font-size="21" font-weight="bold" >1</text>
<text x="146.10" y="1030.31" font-family='"Liberation Sans", Arial, Helvetica, sans-serif' font-size="36.8" font-weight="bold" text-anchor="end" >10</text>
<text transform="translate(146.90,962.45) scale(0.93,1)" font-family='"Liberation Sans", Arial, Helvetica, sans-serif' font-size="21" font-weight="bold" >2</text>
<text x="146.10" y="980.35" font-family='"Liberation Sans", Arial, Helvetica, sans-serif' font-size="36.8" font-weight="bold" text-anchor="end" >10</text>
<text transform="translate(146.90,912.50) scale(0.93,1)" font-family='"Liberation Sans", Arial, Helvetica, sans-serif' font-size="21" font-weight="bold" >3</text>
<text x="146.10" y="930.40" font-family='"Liberation Sans", Arial, Helvetica, sans-serif' font-size="36.8" font-weight="bold" text-anchor="end" >10</text>
<g transform="translate(72.0,1329.9) rotate(-90)" font-family='"Liberation Sans", Arial, Helvetica, sans-serif' font-weight="bold"><text x="0" y="0" font-size="38">I</text><text transform="translate(9.7,13.2) scale(0.92,1)" font-size="38">G</text><text x="49.5" y="0" font-size="36.9">(mA/mm)</text></g>
<text x="460.80" y="1670.20" font-family='"Liberation Sans", Arial, Helvetica, sans-serif' font-size="36.5" font-weight="bold" text-anchor="start" >V</text>
<text x="486.00" y="1682.60" font-family='"Liberation Sans", Arial, Helvetica, sans-serif' font-size="35" font-weight="bold" text-anchor="start" >GS</text>
<text x="548.60" y="1670.20" font-family='"Liberation Sans", Arial, Helvetica, sans-serif' font-size="36.5" font-weight="bold" text-anchor="start" >(V)</text>
<text x="9.40" y="919.20" font-family='"Liberation Serif", "Times New Roman", serif' font-size="66.8" font-weight="normal" text-anchor="start" >(b)</text>
<rect x="203.2" y="942.2" width="564" height="85.8" fill="#fff" stroke="#333" stroke-width="1.2"/>
<line x1="226.50" y1="965.80" x2="301.00" y2="965.80" stroke="#000" stroke-width="4.4" stroke-linecap="round"/>
<line x1="226.50" y1="1008.30" x2="301.00" y2="1008.30" stroke="#f00" stroke-width="4.4" stroke-linecap="round"/>
<text x="311.30" y="975.80" font-family='"Liberation Sans", Arial, Helvetica, sans-serif' font-size="33.65" font-weight="bold" text-anchor="start" >conventional HEMT</text>
<text x="311.10" y="1018.50" font-family='"Liberation Sans", Arial, Helvetica, sans-serif' font-size="33.65" font-weight="bold" text-anchor="start" >p-GaN extended gate HEMT</text>
<text x="208.50" y="1107.00" font-family='"Liberation Sans", Arial, Helvetica, sans-serif' font-size="36" font-weight="bold" text-anchor="start" >V</text>
<text transform="translate(234.00,1120.00) scale(0.925,1)" font-family='"Liberation Sans", Arial, Helvetica, sans-serif' font-size="35.6" font-weight="bold" >DS</text>
<text x="281.00" y="1107.00" font-family='"Liberation Sans", Arial, Helvetica, sans-serif' font-size="36" font-weight="bold" text-anchor="start" >=0 V</text>
</svg>
</body></html>
